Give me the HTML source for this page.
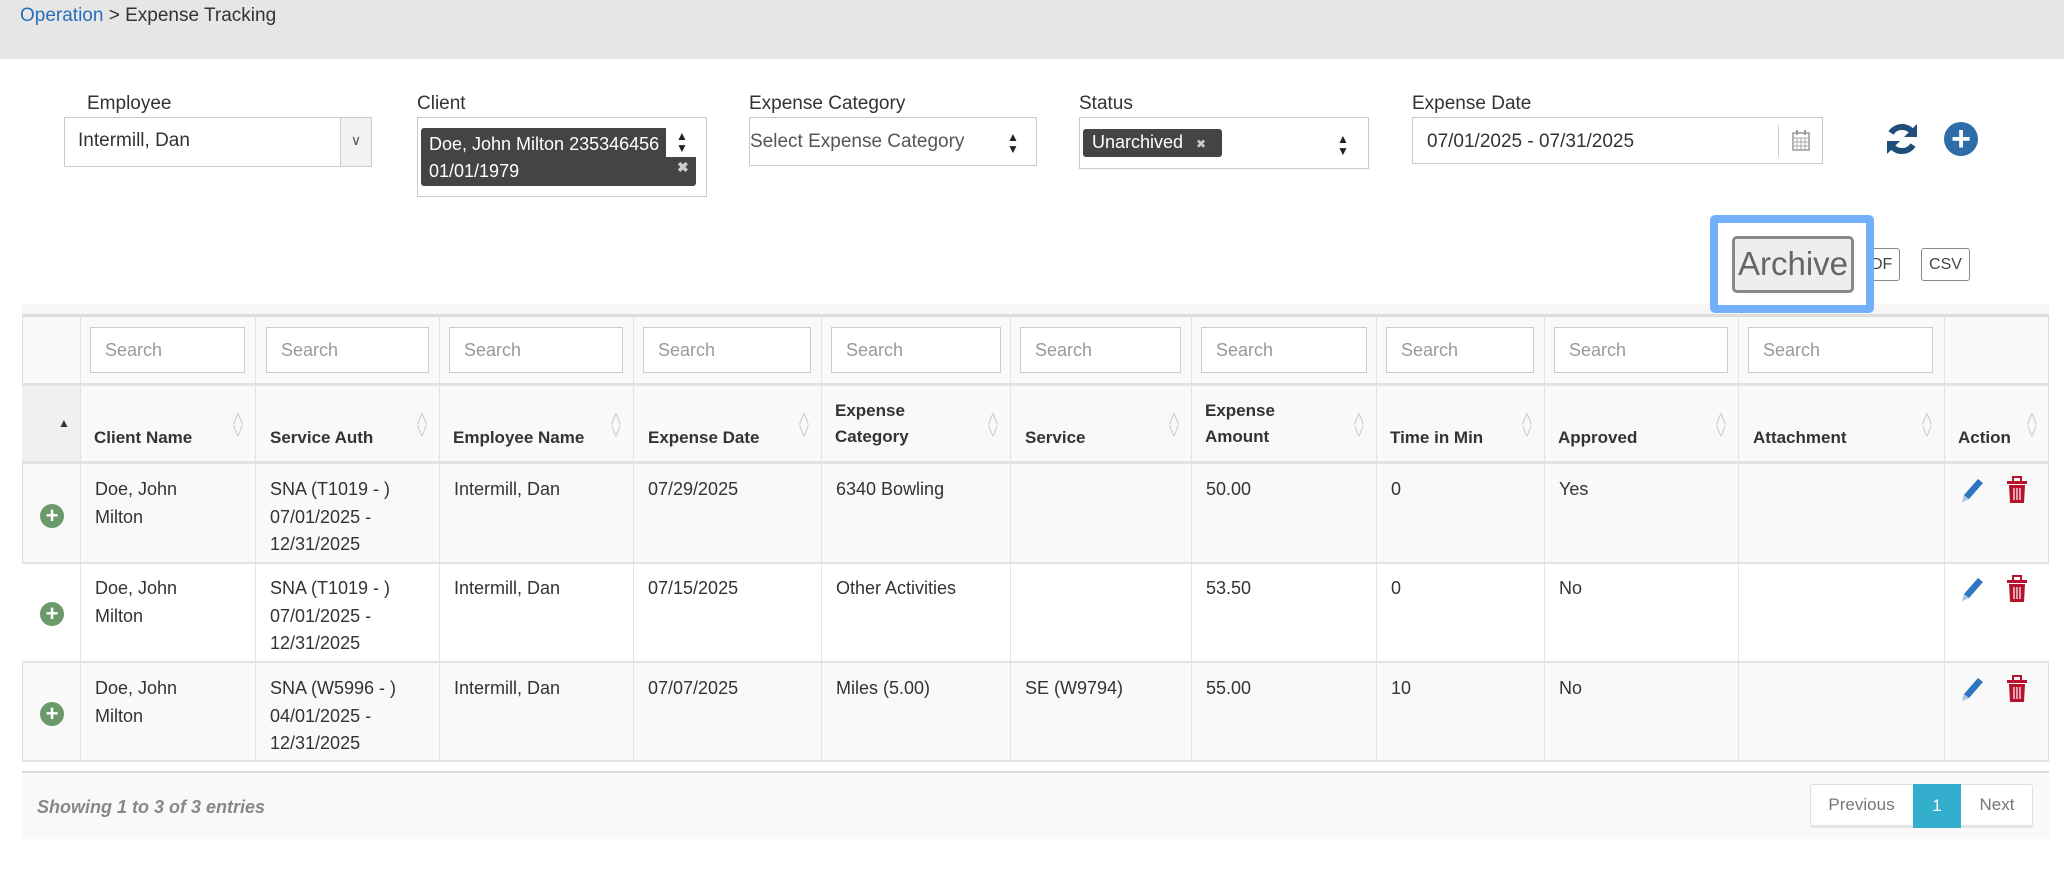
<!DOCTYPE html>
<html><head><meta charset="utf-8"><style>
*{box-sizing:border-box;margin:0;padding:0}
body{width:2064px;height:878px;background:#fff;font-family:"Liberation Sans",sans-serif;color:#333;position:relative;overflow:hidden;font-size:18px}
.a{position:absolute}
.lbl{font-size:19px;color:#333}
.box{position:absolute;border:1px solid #c9c9c9;background:#fff}
.tag{position:absolute;background:#444;color:#fff;border-radius:3px;font-size:18px}
.srch{position:absolute;border:1px solid #ccc;background:#fff;color:#999;font-size:18px;padding:12px 0 0 14px;height:46px}
.vl{position:absolute;width:1px;background:#e2e2e2}
.th{position:absolute;font-weight:bold;font-size:17px;color:#333;line-height:26px}
.td{position:absolute;font-size:18px;line-height:27.5px;color:#333}
.sort{position:absolute;color:#ccc;font-size:12px;line-height:12px}
.gp{position:absolute;width:24px;height:24px;border-radius:50%;background:#6a9a6a;color:#fff;text-align:center;font:bold 22px/24px "Liberation Sans",sans-serif}
</style></head><body>
<div class="a" style="left:0;top:0;width:2064px;height:59px;background:#e6e6e6"></div>
<div class="a" style="left:20px;top:5px;font-size:19px"><span style="color:#2a6ebb">Operation</span> &gt; Expense Tracking</div>

<div class="a lbl" style="left:87px;top:93px">Employee</div>
<div class="a lbl" style="left:417px;top:93px">Client</div>
<div class="a lbl" style="left:749px;top:93px">Expense Category</div>
<div class="a lbl" style="left:1079px;top:93px">Status</div>
<div class="a lbl" style="left:1412px;top:93px">Expense Date</div>

<div class="box" style="left:64px;top:117px;width:308px;height:50px"></div>
<div class="a" style="left:78px;top:130px;font-size:19px">Intermill, Dan</div>
<div class="a" style="left:340px;top:118px;width:31px;height:48px;background:#f2f2f2;border-left:1px solid #ccc;text-align:center;line-height:44px;color:#555;font-size:14px">&#8744;</div>

<div class="box" style="left:417px;top:117px;width:290px;height:80px"></div>
<div class="tag" style="left:421px;top:128px;width:275px;height:58px"></div>
<div class="a" style="left:666px;top:128px;width:30px;height:29px;background:#fff"></div>
<div class="a" style="left:429px;top:131px;color:#fff;font-size:18px;line-height:27px">Doe, John Milton 235346456<br>01/01/1979</div>
<div class="a" style="left:677px;top:159px;color:#ccc;font-size:14px;font-weight:bold">✖</div>
<div class="a" style="left:676px;top:130px;font-size:12px;line-height:12px;color:#222">▲<br>▼</div>

<div class="box" style="left:749px;top:117px;width:288px;height:49px"></div>
<div class="a" style="left:750px;top:131px;font-size:19px;color:#555">Select Expense Category</div>
<div class="a" style="left:1007px;top:131px;font-size:12px;line-height:12px;color:#222">▲<br>▼</div>

<div class="box" style="left:1079px;top:117px;width:290px;height:52px"></div>
<div class="tag" style="left:1083px;top:129px;width:139px;height:28px;padding:3px 0 0 9px">Unarchived <span style="color:#ccc;font-size:12px;margin-left:8px">✖</span></div>
<div class="a" style="left:1337px;top:133px;font-size:12px;line-height:12px;color:#222">▲<br>▼</div>

<div class="box" style="left:1412px;top:117px;width:411px;height:47px"></div>
<div class="a" style="left:1427px;top:131px;font-size:19px">07/01/2025 - 07/31/2025</div>
<div class="a" style="left:1778px;top:125px;width:1px;height:32px;background:#ccc"></div>
<svg class="a" style="left:1792px;top:129px" width="18" height="22" viewBox="0 0 18 22"><rect x="1" y="4" width="16" height="17" fill="none" stroke="#999" stroke-width="1.5"/><path d="M1 9H17M1 13H17M1 17H17M5 9V21M9 9V21M13 9V21" stroke="#aaa" stroke-width="1"/><rect x="4" y="1" width="2" height="5" fill="#999"/><rect x="12" y="1" width="2" height="5" fill="#999"/></svg>

<svg class="a" style="left:1884px;top:121px" width="36" height="36" viewBox="0 0 36 36"><path d="M30 14A13 13 0 0 0 7 12" fill="none" stroke="#1f4e7a" stroke-width="6"/><path d="M6 22A13 13 0 0 0 29 24" fill="none" stroke="#1f4e7a" stroke-width="6"/><path d="M33 3V16H20Z" fill="#1f4e7a"/><path d="M3 33V20H16Z" fill="#1f4e7a"/></svg>
<div class="a" style="left:1944px;top:122px;width:34px;height:34px;border-radius:50%;background:#2e6da8;color:#fff;text-align:center;font:bold 34px/34px 'Liberation Sans',sans-serif">+</div>

<div class="a" style="left:1866px;top:248px;width:34px;height:33px;border:1px solid #888;border-radius:3px;background:#fff;font-size:16px;line-height:31px;padding-left:4px;color:#444">DF</div>
<div class="a" style="left:1921px;top:248px;width:49px;height:33px;border:1px solid #888;border-radius:3px;background:#fff;font-size:16px;line-height:31px;text-align:center;color:#444">CSV</div>

<div class="a" style="left:22px;top:304px;width:2027px;height:10px;background:#f6f6f6"></div>
<div class="a" style="left:22px;top:314px;width:2027px;height:448px;background:#f9f9f9;border:1px solid #ddd"></div>
<div class="a" style="left:22px;top:314px;width:2027px;height:3px;background:#ddd"></div>
<div class="a" style="left:22px;top:383px;width:2027px;height:3px;background:#e2e2e2"></div>
<div class="a" style="left:22px;top:461px;width:2027px;height:3px;background:#e2e2e2"></div>
<div class="a" style="left:22px;top:564px;width:2027px;height:98px;background:#fff"></div>
<div class="a" style="left:22px;top:562px;width:2027px;height:2px;background:#e2e2e2"></div>
<div class="a" style="left:22px;top:661px;width:2027px;height:2px;background:#e2e2e2"></div>
<div class="a" style="left:22px;top:760px;width:2027px;height:2px;background:#e2e2e2"></div>
<div class="a" style="left:22px;top:386px;width:58px;height:75px;background:#f0f0f0"></div>
<div class="vl" style="left:80px;top:314px;height:448px"></div>
<div class="vl" style="left:255px;top:314px;height:448px"></div>
<div class="vl" style="left:439px;top:314px;height:448px"></div>
<div class="vl" style="left:633px;top:314px;height:448px"></div>
<div class="vl" style="left:821px;top:314px;height:448px"></div>
<div class="vl" style="left:1010px;top:314px;height:448px"></div>
<div class="vl" style="left:1191px;top:314px;height:448px"></div>
<div class="vl" style="left:1376px;top:314px;height:448px"></div>
<div class="vl" style="left:1544px;top:314px;height:448px"></div>
<div class="vl" style="left:1738px;top:314px;height:448px"></div>
<div class="vl" style="left:1944px;top:314px;height:448px"></div>

<div class="srch" style="left:90px;top:327px;width:155px">Search</div>
<div class="srch" style="left:266px;top:327px;width:163px">Search</div>
<div class="srch" style="left:449px;top:327px;width:174px">Search</div>
<div class="srch" style="left:643px;top:327px;width:168px">Search</div>
<div class="srch" style="left:831px;top:327px;width:170px">Search</div>
<div class="srch" style="left:1020px;top:327px;width:161px">Search</div>
<div class="srch" style="left:1201px;top:327px;width:166px">Search</div>
<div class="srch" style="left:1386px;top:327px;width:148px">Search</div>
<div class="srch" style="left:1554px;top:327px;width:174px">Search</div>
<div class="srch" style="left:1748px;top:327px;width:185px">Search</div>

<div class="a" style="left:58px;top:416px;font-size:12px;color:#333">▲</div>
<div class="th" style="left:94px;top:425px">Client Name</div>
<div class="th" style="left:270px;top:425px">Service Auth</div>
<div class="th" style="left:453px;top:425px">Employee Name</div>
<div class="th" style="left:648px;top:425px">Expense Date</div>
<div class="th" style="left:835px;top:398px">Expense<br>Category</div>
<div class="th" style="left:1025px;top:425px">Service</div>
<div class="th" style="left:1205px;top:398px">Expense<br>Amount</div>
<div class="th" style="left:1390px;top:425px">Time in Min</div>
<div class="th" style="left:1558px;top:425px">Approved</div>
<div class="th" style="left:1753px;top:425px">Attachment</div>
<div class="th" style="left:1958px;top:425px">Action</div>
<div class="sort" style="left:233px;top:412px">⋀<br>⋁</div>
<div class="sort" style="left:417px;top:412px">⋀<br>⋁</div>
<div class="sort" style="left:611px;top:412px">⋀<br>⋁</div>
<div class="sort" style="left:799px;top:412px">⋀<br>⋁</div>
<div class="sort" style="left:988px;top:412px">⋀<br>⋁</div>
<div class="sort" style="left:1169px;top:412px">⋀<br>⋁</div>
<div class="sort" style="left:1354px;top:412px">⋀<br>⋁</div>
<div class="sort" style="left:1522px;top:412px">⋀<br>⋁</div>
<div class="sort" style="left:1716px;top:412px">⋀<br>⋁</div>
<div class="sort" style="left:1922px;top:412px">⋀<br>⋁</div>
<div class="sort" style="left:2027px;top:412px">⋀<br>⋁</div>

<div class="gp" style="left:40px;top:504px">+</div>
<div class="td" style="left:95px;top:476px">Doe, John<br>Milton</div>
<div class="td" style="left:270px;top:476px">SNA (T1019 - )<br>07/01/2025 -<br>12/31/2025</div>
<div class="td" style="left:454px;top:476px">Intermill, Dan</div>
<div class="td" style="left:648px;top:476px">07/29/2025</div>
<div class="td" style="left:836px;top:476px">6340 Bowling</div>
<div class="td" style="left:1206px;top:476px">50.00</div>
<div class="td" style="left:1391px;top:476px">0</div>
<div class="td" style="left:1559px;top:476px">Yes</div>

<div class="gp" style="left:40px;top:602px">+</div>
<div class="td" style="left:95px;top:575px">Doe, John<br>Milton</div>
<div class="td" style="left:270px;top:575px">SNA (T1019 - )<br>07/01/2025 -<br>12/31/2025</div>
<div class="td" style="left:454px;top:575px">Intermill, Dan</div>
<div class="td" style="left:648px;top:575px">07/15/2025</div>
<div class="td" style="left:836px;top:575px">Other Activities</div>
<div class="td" style="left:1206px;top:575px">53.50</div>
<div class="td" style="left:1391px;top:575px">0</div>
<div class="td" style="left:1559px;top:575px">No</div>

<div class="gp" style="left:40px;top:702px">+</div>
<div class="td" style="left:95px;top:675px">Doe, John<br>Milton</div>
<div class="td" style="left:270px;top:675px">SNA (W5996 - )<br>04/01/2025 -<br>12/31/2025</div>
<div class="td" style="left:454px;top:675px">Intermill, Dan</div>
<div class="td" style="left:648px;top:675px">07/07/2025</div>
<div class="td" style="left:836px;top:675px">Miles (5.00)</div>
<div class="td" style="left:1025px;top:675px">SE (W9794)</div>
<div class="td" style="left:1206px;top:675px">55.00</div>
<div class="td" style="left:1391px;top:675px">10</div>
<div class="td" style="left:1559px;top:675px">No</div>

<svg class="a" style="left:1958px;top:476px" width="80" height="28"><g id="ic"><path d="M4 26L6 19L20 3L25 7L11 23Z" fill="#2f76c0"/><path d="M6 19L11 23L4 26Z" fill="#fff" opacity=".6"/><rect x="49" y="5" width="20" height="3" fill="#b5122e"/><rect x="55" y="1" width="8" height="5" fill="none" stroke="#b5122e" stroke-width="2"/><path d="M51 9H67L66 27H52Z" fill="#b5122e"/><path d="M56 12V24M59 12V24M62 12V24" stroke="#fff" stroke-width="1.2"/></g></svg>
<svg class="a" style="left:1958px;top:575px" width="80" height="28"><use href="#ic"/></svg>
<svg class="a" style="left:1958px;top:675px" width="80" height="28"><use href="#ic"/></svg>

<div class="a" style="left:22px;top:771px;width:2027px;height:68px;background:#f9f9f9;border-top:2px solid #ddd"></div>
<div class="a" style="left:37px;top:797px;font-size:18px;font-style:italic;font-weight:bold;color:#888">Showing 1 to 3 of 3 entries</div>
<div class="a" style="left:1810px;top:784px;width:223px;height:44px;border:1px solid #ddd;border-bottom:3px solid #e4e4e4;background:#fff;border-radius:3px"></div>
<div class="a" style="left:1810px;top:795px;width:103px;text-align:center;color:#777;font-size:17px">Previous</div>
<div class="a" style="left:1913px;top:784px;width:48px;height:44px;background:#33aecc;color:#fff;text-align:center;line-height:44px;font-size:17px">1</div>
<div class="a" style="left:1961px;top:795px;width:72px;text-align:center;color:#777;font-size:17px">Next</div>

<div class="a" style="left:1710px;top:215px;width:164px;height:98px;border:8px solid #72b0fb;border-radius:5px;background:#fff"></div>
<div class="a" style="left:1732px;top:236px;width:122px;height:57px;border:3px solid #888;border-radius:5px;background:#eee;color:#666;font-size:33px;line-height:50px;text-align:center">Archive</div>
</body></html>
